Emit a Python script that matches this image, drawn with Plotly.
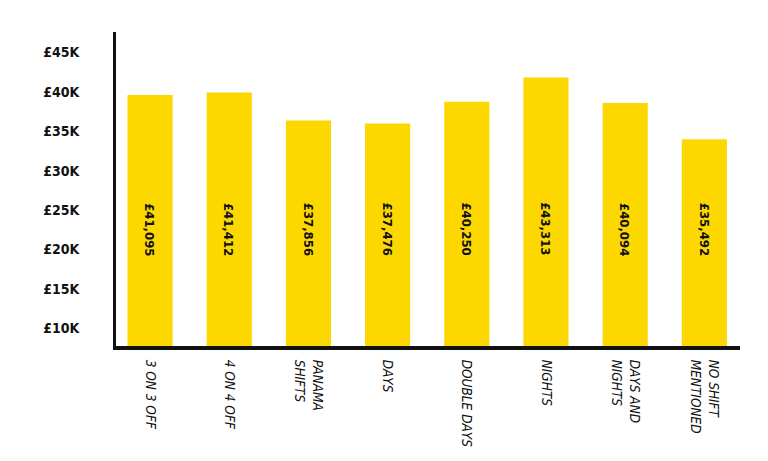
import plotly.graph_objects as go

# ---- data ----
categories = ["3 ON 3 OFF", "4 ON 4 OFF", "PANAMA<br>SHIFTS", "DAYS", "DOUBLE DAYS",
              "NIGHTS", "DAYS AND<br>NIGHTS", "NO SHIFT<br>MENTIONED"]
salaries = [41095, 41412, 37856, 37476, 40250, 43313, 40094, 35492]
tick_values_k = [10, 15, 20, 25, 30, 35, 40, 45]
tick_labels = ["£10K", "£15K", "£20K", "£25K", "£30K", "£35K", "£40K", "£45K"]
value_labels = ["£41,095", "£41,412", "£37,856", "£37,476", "£40,250", "£43,313", "£40,094", "£35,492"]

YELLOW = "#FDD800"
INK = "#111111"
FONT = "DejaVu Sans Condensed, Roboto Condensed, Liberation Sans Narrow, Roboto, sans-serif"
TICK_SHIFT = 1500  # the original's tick labels sit ~1.5K above their true values

x_idx = list(range(len(categories)))

fig = go.Figure()
fig.add_trace(go.Bar(
    x=x_idx, y=salaries, marker=dict(color=YELLOW, line=dict(width=0)),
    width=0.57, hoverinfo="skip",
))

for i, lab in enumerate(value_labels):
    fig.add_annotation(
        x=x_idx[i], xref="x", y=0.372, yref="paper", text=lab, showarrow=False,
        textangle=90, font=dict(family=FONT, size=13, color=INK, weight="bold"),
        xanchor="center", yanchor="middle",
    )

fig.update_layout(
    width=760, height=453,
    margin=dict(l=108, r=28, t=24, b=115),
    paper_bgcolor="white", plot_bgcolor="white",
    showlegend=False,
    xaxis=dict(
        range=[-0.43, 7.45], tickmode="array", tickvals=x_idx, ticktext=categories,
        tickangle=90, showgrid=False, zeroline=False,
        showline=True, linecolor=INK, linewidth=4, ticks="",
        ticklabelstandoff=7,
        tickfont=dict(family=FONT, size=13.5, color=INK, style="italic"),
    ),
    yaxis=dict(
        range=[9250, 49100], tickmode="array",
        tickvals=[v * 1000 + TICK_SHIFT for v in tick_values_k], ticktext=tick_labels,
        showgrid=False, zeroline=False, showline=True, linecolor=INK, linewidth=3,
        ticks="", ticklabelstandoff=31,
        tickfont=dict(family=FONT, size=14, color=INK, weight="bold"),
    ),
)

fig.write_html("out.html")
